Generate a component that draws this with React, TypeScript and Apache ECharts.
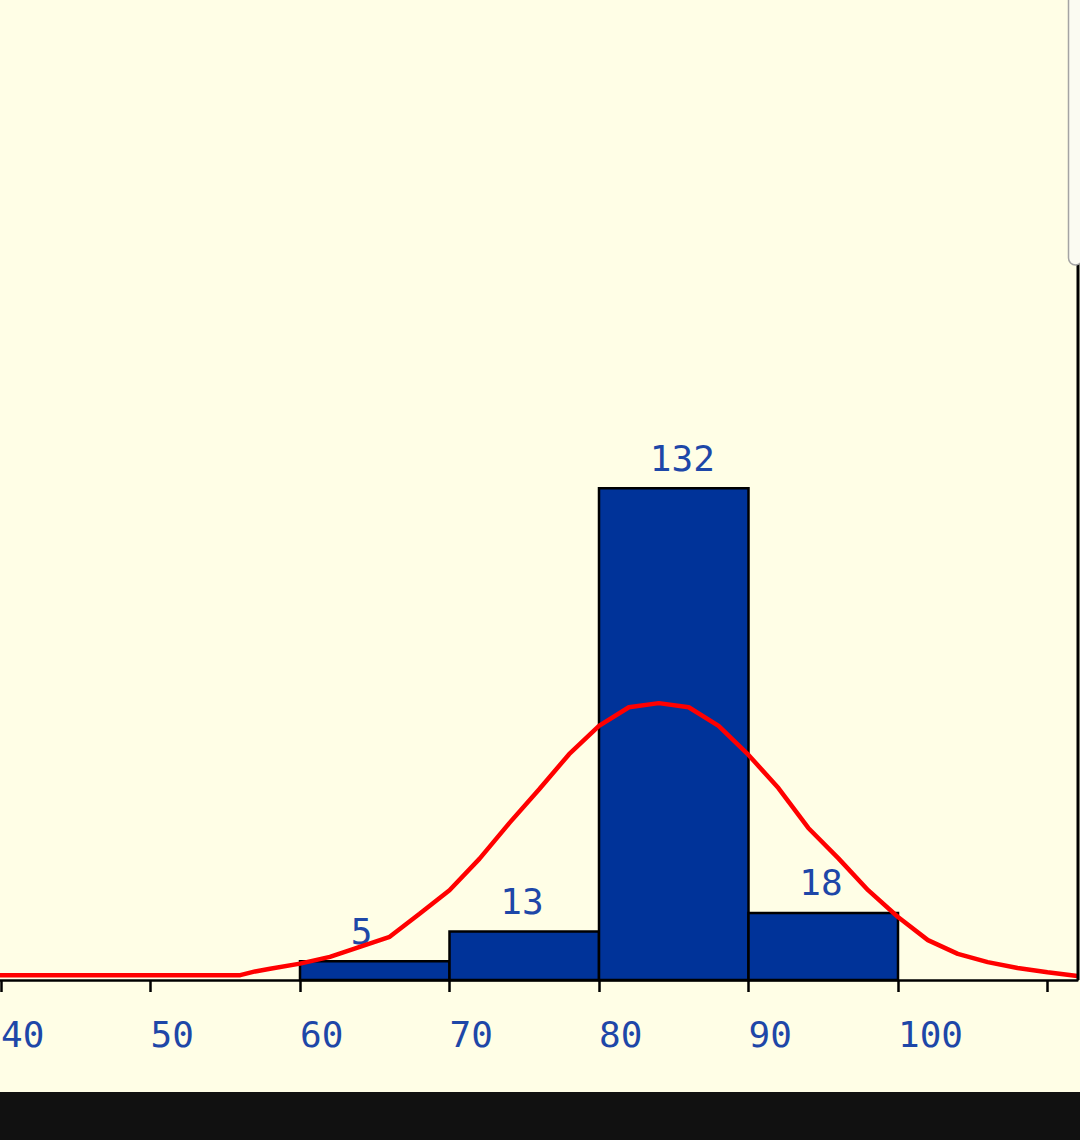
import React, { useEffect, useRef } from "react";
import * as echarts from "echarts";

// Histogram bins (score ranges) and counts
const binEdges = [60, 70, 80, 90, 100];
const counts = [5, 13, 132, 18];

// Fitted normal curve: [score, expected count]
const curveX = [30, 40, 50, 56, 57, 58, 60, 62, 64, 66, 68, 70, 72, 74, 76, 78, 80, 82, 84, 86, 88, 90, 92, 94, 96, 98, 100, 102, 104, 106, 108, 110, 112];
const curveY = [1.3, 1.3, 1.3, 1.3, 2.3, 3.0, 4.4, 6.2, 8.9, 11.6, 17.8, 24.1, 32.5, 42.1, 51.2, 60.6, 68.2, 73.2, 74.3, 73.2, 68.2, 60.4, 51.5, 40.8, 32.7, 24.1, 16.9, 10.7, 7.0, 4.8, 3.2, 2.1, 1.1];

// Axis settings
const xMin = 30;
const xMax = 112;
const xStep = 10;
const yMax = 263;

const LABEL_BLUE = "#1e47a8";
const BAR_BLUE = "#003399";
const BG = "#fffee6";

export default function App() {
  const ref = useRef<HTMLDivElement>(null);

  useEffect(() => {
    if (!ref.current) return;
    const chart = echarts.init(ref.current, undefined, { renderer: "svg" });
    const histData = counts.map((c, i) => [binEdges[i], binEdges[i + 1], c]);
    const curveData = curveX.map((x, i) => [x, curveY[i]]);
    const OFF = 200; // chart div is shifted left by this many px

    chart.setOption({
      animation: false,
      backgroundColor: BG,
      grid: { left: 51.5, right: 2.6, top: 0, bottom: 112, containLabel: false },
      xAxis: {
        type: "value",
        min: xMin,
        max: xMax,
        interval: xStep,
        splitLine: { show: false },
        axisLine: { show: true, onZero: false, lineStyle: { color: "#000", width: 2.5 } },
        axisTick: { show: true, inside: false, length: 12, lineStyle: { color: "#000", width: 2.5 } },
        axisLabel: {
          color: LABEL_BLUE,
          fontFamily: "DejaVu Sans Mono",
          fontSize: 36,
          align: "left",
          margin: 36,
          showMaxLabel: false,
          formatter: (v: number) => (v > 100 ? "" : String(v)),
        },
      },
      yAxis: { type: "value", min: 0, max: yMax, show: false, splitLine: { show: false } },
      series: [
        {
          type: "custom",
          z: 2,
          clip: false,
          data: histData,
          renderItem: (_params: any, api: any) => {
            const x0 = api.value(0);
            const x1 = api.value(1);
            const c = api.value(2);
            const p0 = api.coord([x0, c]);
            const p1 = api.coord([x1, 0]);
            const w = p1[0] - p0[0];
            const h = p1[1] - p0[1];
            return {
              type: "group",
              children: [
                {
                  type: "rect",
                  shape: { x: p0[0], y: p0[1], width: w, height: h },
                  style: { fill: BAR_BLUE, stroke: "#000", lineWidth: 2.5 },
                },
                {
                  type: "text",
                  x: p0[0] + w * 0.34,
                  y: p0[1] - 12,
                  style: {
                    text: String(c),
                    fill: LABEL_BLUE,
                    font: '36px "DejaVu Sans Mono"',
                    textAlign: "left",
                    textVerticalAlign: "bottom",
                  },
                },
              ],
            };
          },
        },
        {
          type: "line",
          z: 3,
          data: curveData,
          showSymbol: false,
          symbol: "none",
          smooth: false,
          lineStyle: { color: "#ff0000", width: 4.5 },
        },
      ],
      graphic: [
        {
          type: "line",
          shape: { x1: 1078 + OFF, y1: 262, x2: 1078 + OFF, y2: 980 },
          style: { stroke: "#000", lineWidth: 3 },
          z: 10,
        },
        {
          type: "rect",
          shape: { x: 1068.5 + OFF, y: -10, width: 14, height: 275, r: 7 },
          style: { fill: "#fbfbf2", stroke: "#a4a4a4", lineWidth: 1.5 },
          z: 10,
        },
      ],
    });
    return () => chart.dispose();
  }, []);

  return (
    <div style={{ position: "absolute", left: 0, top: 0, width: 1080, height: 1140, background: "#111", overflow: "hidden" }}>
      <div ref={ref} style={{ position: "absolute", left: -200, top: 0, width: 1280, height: 1092 }} />
    </div>
  );
}
